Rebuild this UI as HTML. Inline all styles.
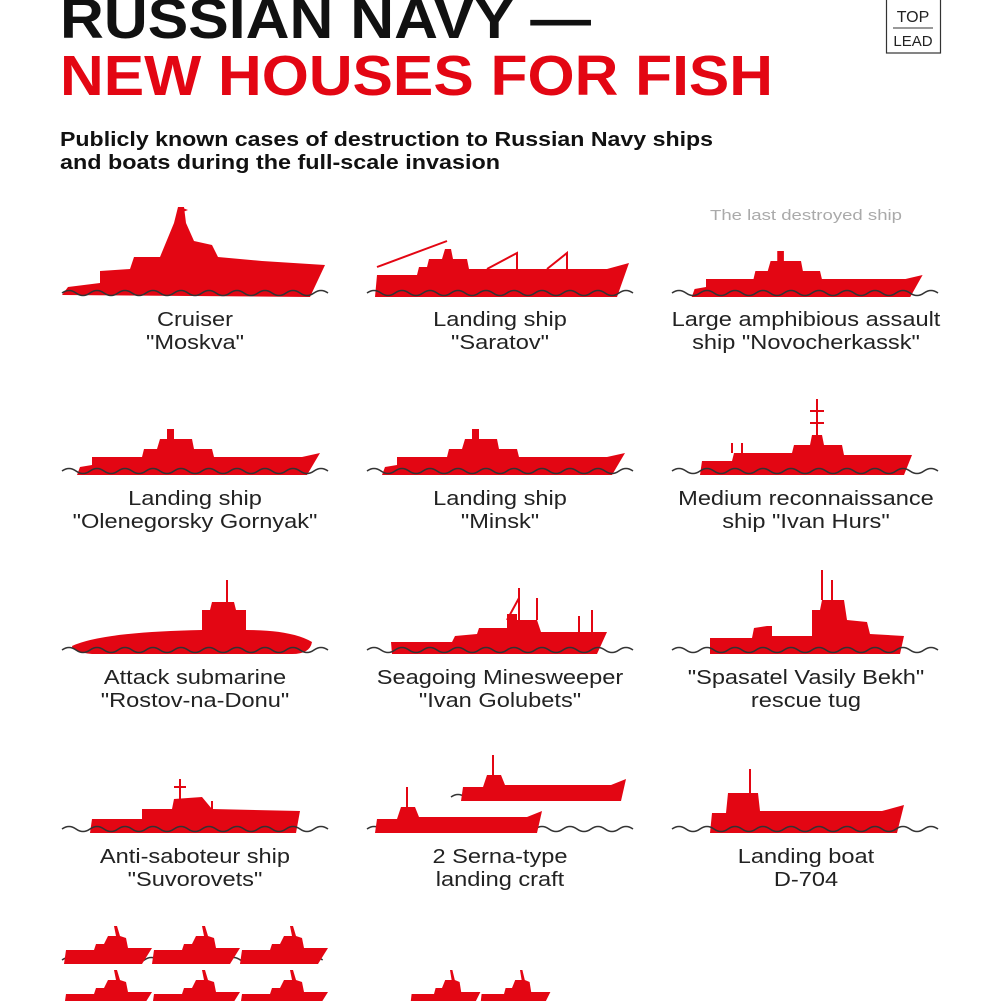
<!DOCTYPE html>
<html><head><meta charset="utf-8"><style>
html,body{margin:0;padding:0;background:#fff;width:1001px;height:1001px;overflow:hidden}
svg{display:block}
.t{font-family:"Liberation Sans",sans-serif;font-weight:bold}
.l{font-family:"Liberation Sans",sans-serif;font-size:20px;fill:#222;text-anchor:middle}
.w{fill:none;stroke:#333;stroke-width:1.5}
.s{fill:#e30613}
.m{stroke:#e30613;stroke-width:2;fill:none}
</style></head><body>
<svg width="1001" height="1001" viewBox="0 0 1001 1001">
<defs>
<path id="wv" class="w" d="M0,0 q7,-5 14,0 t14,0 t14,0 t14,0 t14,0 t14,0 t14,0 t14,0 t14,0 t14,0 t14,0 t14,0 t14,0 t14,0 t14,0 t14,0 t14,0 t14,0 t14,0"/>
<path id="wvs" class="w" d="M0,0 q7,-5 14,0 t14,0 t14,0 t14,0 t14,0 t14,0 t14,0 t14,0 t14,0 t14,0 t14,0 t14,0"/>
<path id="ropucha" class="s" d="M5,4 L8,-4 L20,-6 L20,-14 L70,-14 L72,-22 L85,-22 L88,-32 L95,-32 L95,-42 L102,-42 L102,-32 L120,-32 L122,-22 L140,-22 L142,-14 L230,-14 L248,-18 L235,4 Z"/>
<path id="boat" class="s" d="M0,4 L2,-10 L30,-10 L32,-16 L40,-16 L44,-24 L52,-24 L50,-34 L53,-34 L56,-24 L62,-22 L64,-12 L88,-12 L78,4 Z"/>
</defs>

<text class="t" x="60" y="38" font-size="57" fill="#111" textLength="531" lengthAdjust="spacingAndGlyphs">RUSSIAN NAVY —</text>
<text class="t" x="60" y="95" font-size="57" fill="#e30613" textLength="713" lengthAdjust="spacingAndGlyphs">NEW HOUSES FOR FISH</text>
<rect x="886.5" y="-2" width="54" height="55" fill="#fff" stroke="#333" stroke-width="1.2"/>
<text x="913" y="22" font-family="Liberation Sans" font-size="16" text-anchor="middle" fill="#222">TOP</text>
<line x1="893" y1="28" x2="933" y2="28" stroke="#333"/>
<text x="913" y="46" font-family="Liberation Sans" font-size="15" text-anchor="middle" fill="#222">LEAD</text>
<text class="t" x="60" y="146" font-size="20" fill="#111" textLength="653" lengthAdjust="spacingAndGlyphs">Publicly known cases of destruction to Russian Navy ships</text>
<text class="t" x="60" y="169" font-size="20" fill="#111" textLength="440" lengthAdjust="spacingAndGlyphs">and boats during the full-scale invasion</text>
<text x="806" y="220" font-family="Liberation Sans" font-size="15" fill="#aaa" text-anchor="middle" textLength="192" lengthAdjust="spacingAndGlyphs">The last destroyed ship</text>

<!-- Row 1 -->
<g transform="translate(62,293)">
<path class="s" d="M0,2 L6,-6 L38,-10 L38,-22 L68,-24 L72,-36 L98,-36 L112,-70 L116,-86 L122,-86 L124,-70 L132,-52 L150,-48 L156,-36 L200,-32 L263,-28 L248,4 Z"/>
<path class="s" d="M118,-86 L118,-80 L126,-83 Z"/>
<use href="#wv"/></g>
<g transform="translate(367,293)">
<path class="s" d="M8,4 L10,-18 L50,-18 L52,-26 L60,-26 L62,-34 L75,-34 L78,-44 L84,-44 L86,-34 L100,-34 L102,-24 L240,-24 L262,-30 L250,4 Z"/>
<path class="m" d="M10,-26 L80,-52 M120,-24 L150,-40 L150,-24 M180,-24 L200,-40 L200,-24"/>
<use href="#wv"/></g>
<g transform="translate(672,293)">
<use href="#ropucha" transform="translate(15,0) scale(0.95,1)"/>
<use href="#wv"/></g>

<!-- Row 2 -->
<g transform="translate(62,471)"><use href="#ropucha" transform="translate(10,0)"/><use href="#wv"/></g>
<g transform="translate(367,471)"><use href="#ropucha" transform="translate(10,0)"/><use href="#wv"/></g>
<g transform="translate(672,471)">
<path class="s" d="M28,4 L30,-10 L60,-10 L62,-18 L120,-18 L122,-26 L138,-26 L140,-36 L150,-36 L152,-26 L170,-26 L172,-16 L240,-16 L232,4 Z"/>
<path class="m" d="M145,-36 L145,-72 M138,-60 L152,-60 M138,-48 L152,-48 M60,-18 L60,-28 M70,-18 L70,-28"/>
<use href="#wv"/></g>

<!-- Row 3 -->
<g transform="translate(62,650)">
<path class="s" d="M10,-4 Q40,-18 140,-20 L140,-40 L148,-40 L150,-48 L172,-48 L174,-40 L184,-40 L184,-20 Q230,-20 250,-8 Q248,4 230,4 L30,4 Q10,2 10,-4 Z"/>
<path class="m" d="M165,-48 L165,-70"/>
<use href="#wv"/></g>
<g transform="translate(367,650)">
<path class="s" d="M25,4 L24,-8 L85,-8 L88,-14 L110,-16 L112,-22 L140,-22 L140,-36 L150,-36 L150,-30 L170,-30 L174,-18 L240,-18 L230,4 Z"/>
<path class="m" d="M152,-30 L152,-62 M170,-30 L170,-52 M225,-18 L225,-40 M212,-18 L212,-34 M140,-30 L152,-52"/>
<use href="#wv"/></g>
<g transform="translate(672,650)">
<path class="s" d="M38,4 L38,-12 L80,-12 L82,-22 L95,-24 L100,-24 L100,-14 L140,-14 L140,-40 L148,-40 L150,-50 L172,-50 L175,-30 L195,-28 L198,-16 L232,-14 L228,4 Z"/>
<path class="m" d="M150,-50 L150,-80 M160,-50 L160,-70"/>
<use href="#wv"/></g>

<!-- Row 4 -->
<g transform="translate(62,829)">
<path class="s" d="M28,4 L30,-10 L80,-10 L80,-20 L110,-20 L112,-30 L140,-32 L150,-20 L238,-18 L234,4 Z"/>
<path class="m" d="M118,-30 L118,-50 M112,-42 L124,-42 M150,-20 L150,-28"/>
<use href="#wv"/></g>
<g transform="translate(367,829)">
<use href="#wv"/>
<path class="s" d="M8,4 L10,-10 L30,-10 L34,-22 L48,-22 L52,-12 L160,-12 L175,-18 L170,4 Z"/>
<path class="m" d="M40,-22 L40,-42"/>
<g transform="translate(84,-32)"><use href="#wvs"/>
<path class="s" d="M10,4 L12,-10 L32,-10 L36,-22 L50,-22 L54,-12 L160,-12 L175,-18 L170,4 Z"/>
<path class="m" d="M42,-22 L42,-42"/></g>
</g>
<g transform="translate(672,829)">
<path class="s" d="M38,4 L40,-16 L54,-16 L56,-36 L86,-36 L88,-18 L210,-18 L232,-24 L225,4 Z"/>
<path class="m" d="M78,-36 L78,-60"/>
<use href="#wv"/></g>

<!-- Labels -->
<g transform="translate(195,0) scale(1.18,1) translate(-195,0)">
<text class="l" x="195" y="326">Cruiser</text><text class="l" x="195" y="349">"Moskva"</text>
<text class="l" x="195" y="505">Landing ship</text><text class="l" x="195" y="528">"Olenegorsky Gornyak"</text>
<text class="l" x="195" y="684">Attack submarine</text><text class="l" x="195" y="707">"Rostov-na-Donu"</text>
<text class="l" x="195" y="863">Anti-saboteur ship</text><text class="l" x="195" y="886">"Suvorovets"</text>
</g>
<g transform="translate(500,0) scale(1.18,1) translate(-500,0)">
<text class="l" x="500" y="326">Landing ship</text><text class="l" x="500" y="349">"Saratov"</text>
<text class="l" x="500" y="505">Landing ship</text><text class="l" x="500" y="528">"Minsk"</text>
<text class="l" x="500" y="684">Seagoing Minesweeper</text><text class="l" x="500" y="707">"Ivan Golubets"</text>
<text class="l" x="500" y="863">2 Serna-type</text><text class="l" x="500" y="886">landing craft</text>
</g>
<g transform="translate(806,0) scale(1.18,1) translate(-806,0)">
<text class="l" x="806" y="326">Large amphibious assault</text><text class="l" x="806" y="349">ship "Novocherkassk"</text>
<text class="l" x="806" y="505">Medium reconnaissance</text><text class="l" x="806" y="528">ship "Ivan Hurs"</text>
<text class="l" x="806" y="684">"Spasatel Vasily Bekh"</text><text class="l" x="806" y="707">rescue tug</text>
<text class="l" x="806" y="863">Landing boat</text><text class="l" x="806" y="886">D-704</text>
</g>

<!-- Row 5 -->
<g transform="translate(62,960)">
<use href="#wv" transform="scale(0.98,1)"/>
<use href="#boat" transform="translate(2,0)"/><use href="#boat" transform="translate(90,0)"/><use href="#boat" transform="translate(178,0)"/>
</g>
<g transform="translate(62,1004)">
<use href="#boat" transform="translate(2,0)"/><use href="#boat" transform="translate(90,0)"/><use href="#boat" transform="translate(178,0)"/>
</g>
<g transform="translate(410,1004)">
<use href="#boat" transform="translate(0,0) scale(0.8,1)"/><use href="#boat" transform="translate(70,0) scale(0.8,1)"/>
</g>
</svg>
</body></html>
